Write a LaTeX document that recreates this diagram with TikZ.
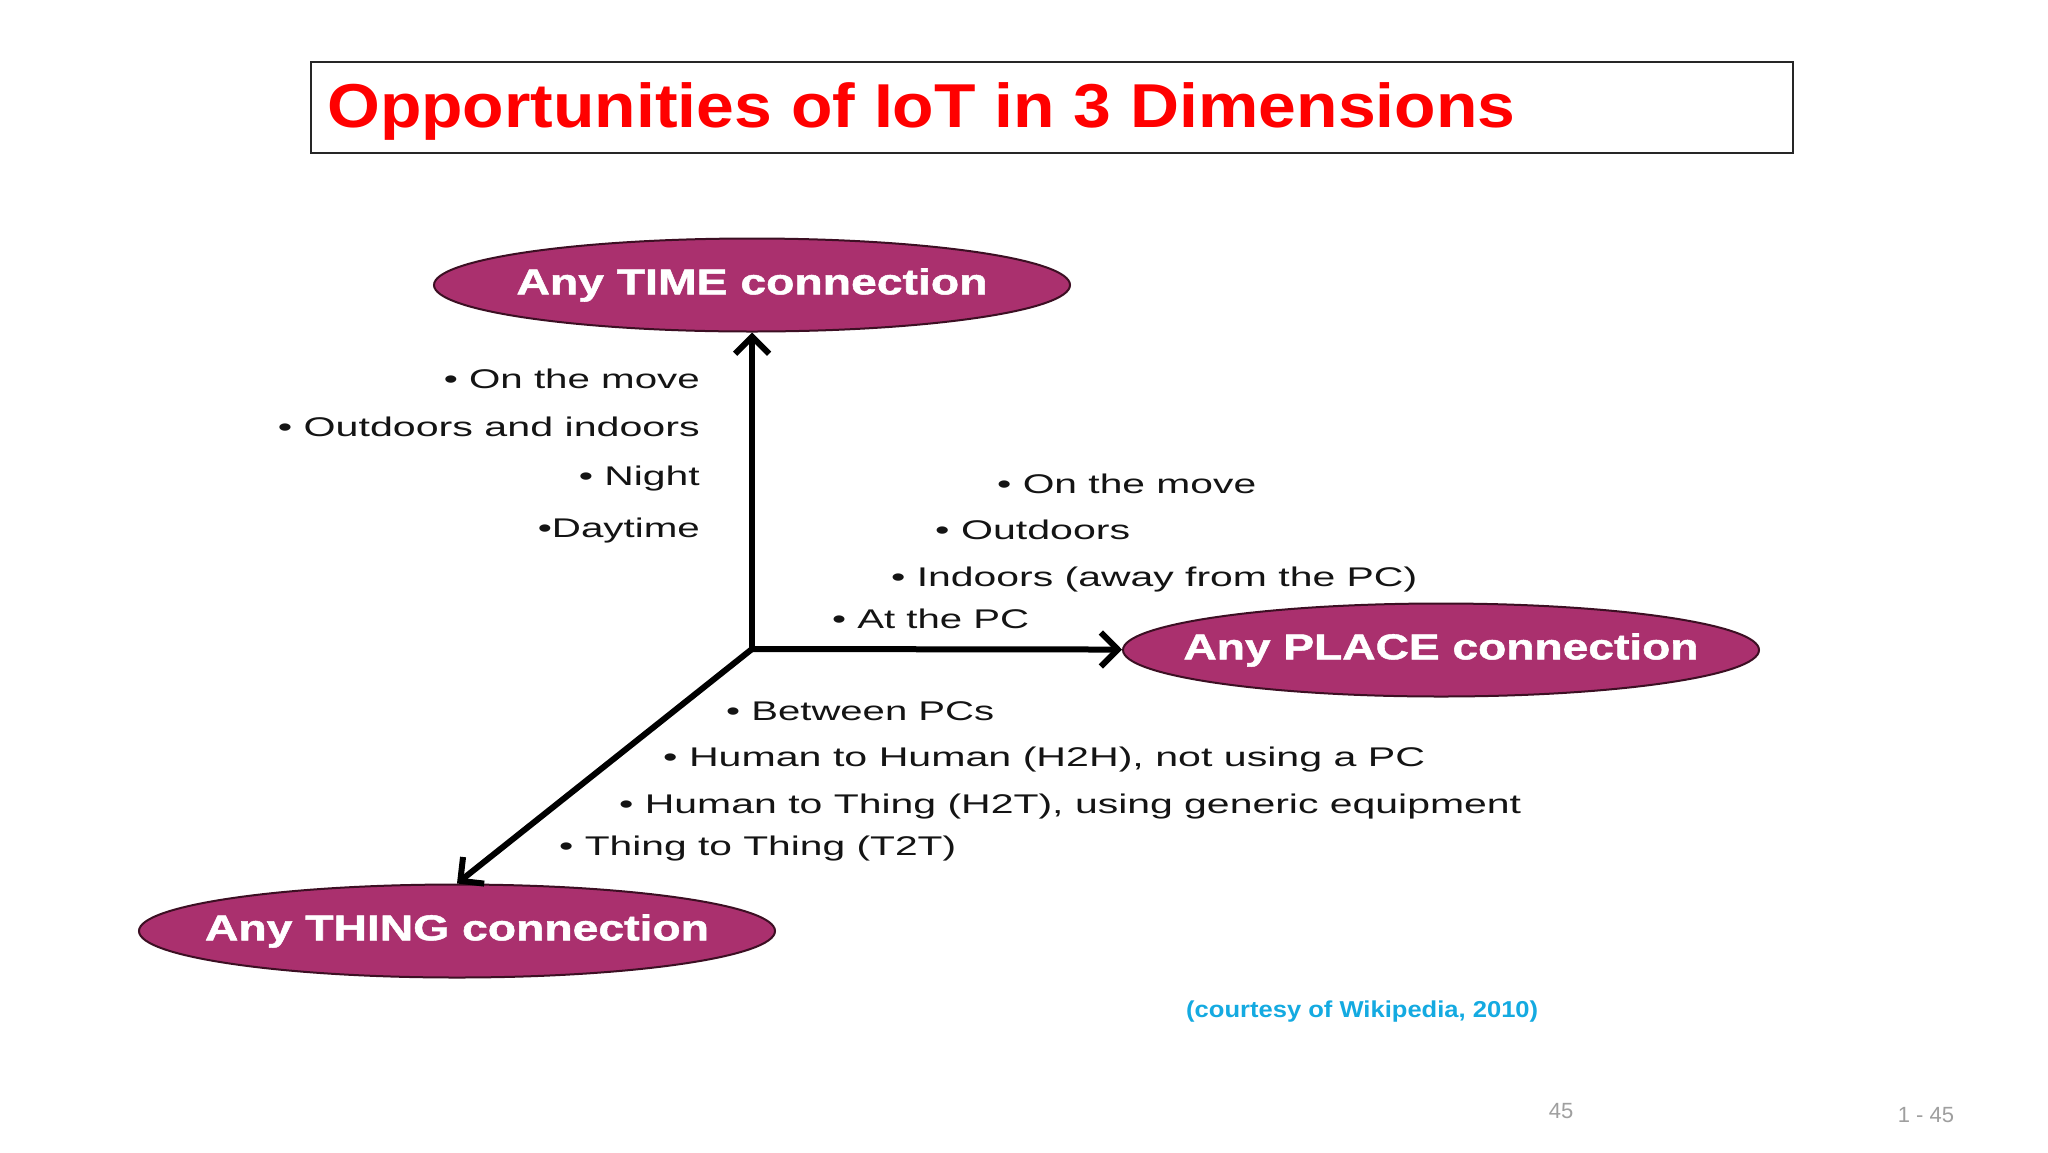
\documentclass[tikz,border=0pt]{standalone}
\usepackage{fontspec}
\setmainfont{Liberation Sans}
\newfontfamily\heavyfont{Liberation Sans}[BoldFeatures={FakeBold=1.2}]
\usetikzlibrary{arrows.meta,shapes.geometric}
\definecolor{ellfill}{RGB}{170,48,110}
\definecolor{ellline}{RGB}{60,15,35}
\definecolor{titlered}{RGB}{255,0,0}
\definecolor{courtblue}{RGB}{20,170,225}
\definecolor{bodytext}{RGB}{20,20,20}
\newcommand\fitw[2]{\resizebox{#1pt}{\height}{#2}}
\tikzset{
  ell/.style={ellipse, draw=ellline, line width=2pt, fill=ellfill, text=white,
    font=\fontsize{36}{36}\heavyfont\bfseries, inner xsep=-40pt, inner ysep=0pt,
    minimum width=636pt, minimum height=93pt},
  txt/.style={inner sep=0pt, text=bodytext, font=\fontsize{27}{27}\selectfont},
  arr/.style={line width=6pt, -{Straight Barb[length=17pt,width=34pt]}},
  pagenum/.style={inner sep=0pt, text=gray!75, font=\fontsize{22}{22}\selectfont}
}
\begin{document}
\begin{tikzpicture}[x=1pt,y=-1pt]
\path[use as bounding box, fill=white] (0,0) rectangle (2048,1152);
% title
\node[draw=black!85, line width=2pt, minimum width=1482pt, minimum height=91pt,
      anchor=north west, inner sep=0pt] (titlebox) at (310,61) {};
\node[anchor=base west, inner sep=0pt, text=titlered,
      font=\fontsize{62}{62}\selectfont\bfseries] (title) at (327,127)
      {\fitw{1188}{Opportunities of IoT in 3 Dimensions}};
% ellipses
\node[ell] (time) at (752,285) {\raisebox{-4pt}{\fitw{471}{Any TIME connection}}};
\node[ell] (place) at (1441,650) {\raisebox{-4pt}{\fitw{515}{Any PLACE connection}}};
\node[ell] (thing) at (457,931) {\raisebox{-4pt}{\fitw{504}{Any THING connection}}};
% arrows
\coordinate (o) at (752,649);
\draw[arr] (o) -- (time);
\draw[arr] (o) -- (place);
\draw[arr] (o) -- (thing.north);
% time texts
\node[txt, anchor=mid east] (t1) at (700,386) {\fitw{256}{• On the move}};
\node[txt, anchor=mid east] (t2) at (700,434) {\fitw{422}{• Outdoors and indoors}};
\node[txt, anchor=mid east] (t3) at (700,483) {\fitw{121}{• Night}};
\node[txt, anchor=mid east] (t4) at (700,535) {\fitw{162}{•Daytime}};
% place texts
\node[txt, anchor=mid west] (p1) at (997,491) {\fitw{259}{• On the move}};
\node[txt, anchor=mid west] (p2) at (935,537) {\fitw{195}{• Outdoors}};
\node[txt, anchor=mid west] (p3) at (891,584) {\fitw{526}{• Indoors (away from the PC)}};
\node[txt, anchor=mid west] (p4) at (832,626) {\fitw{197}{• At the PC}};
% thing texts
\node[txt, anchor=mid west] (h1) at (726,718) {\fitw{268}{• Between PCs}};
\node[txt, anchor=mid west] (h2) at (663,764) {\fitw{762}{• Human to Human (H2H), not using a PC}};
\node[txt, anchor=mid west] (h3) at (619,811) {\fitw{902}{• Human to Thing (H2T), using generic equipment}};
\node[txt, anchor=mid west] (h4) at (559,853) {\fitw{397}{• Thing to Thing (T2T)}};
% courtesy
\node[anchor=mid west, inner sep=0pt, text=courtblue,
      font=\fontsize{23}{23}\selectfont\bfseries] (court) at (1186,1015)
      {\fitw{352}{(courtesy of Wikipedia, 2010)}};
% page numbers
\node[pagenum] (pg1) at (1561,1111) {45};
\node[pagenum] (pg2) at (1926,1115) {1 - 45};
\end{tikzpicture}
\end{document}
